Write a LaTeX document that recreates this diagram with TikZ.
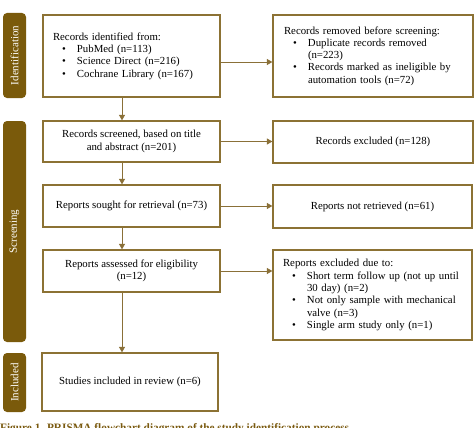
\documentclass[tikz,border=0pt]{standalone}
\usepackage{fontspec}
\setmainfont{Liberation Serif}
\usetikzlibrary{arrows.meta}
\definecolor{barc}{HTML}{7A5A0B}
\definecolor{boxc}{HTML}{8C7234}
\definecolor{arrc}{HTML}{8A7038}
\definecolor{capc}{HTML}{7A5A10}
\newcommand\itm[1]{\par{\leftskip=24pt\noindent\llap{\textbullet\hspace{11pt}}#1\par}}
\tikzset{
  bar/.style={fill=barc, rounded corners=4pt, draw=none},
  lbl/.style={text=white, rotate=90, font=\fontsize{11}{13}\selectfont, inner sep=0pt},
  box/.style={draw=boxc, line width=1.3pt, fill=white, font=\fontsize{10.8}{12.3}\selectfont},
  lbox/.style={box, align=left},
  cbox/.style={box, align=center},
  conn/.style={draw=arrc, line width=0.9pt, -{Triangle[length=5.5pt,width=6pt]}},
}
\begin{document}
\begin{tikzpicture}[x=1pt,y=-1pt]
\useasboundingbox (0,0) rectangle (474,428);
\clip (0,0) rectangle (474,428);
% side bars
\fill[bar] (3,13) rectangle (26,98);
\fill[bar] (3,121) rectangle (26,342);
\fill[bar] (3,353) rectangle (26,412);
\node[lbl] (lid) at (14.5,55.5) {Identification};
\node[lbl] (lsc) at (14.5,231.5) {Screening};
\node[lbl] (lin) at (14.5,382.5) {Included};
% boxes
\node[lbox, minimum width=177pt, minimum height=82pt, text width=157pt, inner xsep=10pt] (id) at (131.5,56)
  {Records identified from:\itm{PubMed (n=113)}\itm{Science Direct (n=216)}\itm{Cochrane Library (n=167)}};
\node[lbox, minimum width=200pt, minimum height=82pt, text width=178pt, inner xsep=11pt] (rem) at (373,56)
  {Records removed before screening:\itm{Duplicate records removed\newline (n=223)}\itm{Records marked as ineligible by\newline automation tools (n=72)}};
\node[cbox, minimum width=177pt, minimum height=41pt] (scr) at (131.5,141.5)
  {Records screened, based on title\\and abstract (n=201)};
\node[cbox, minimum width=200pt, minimum height=42pt] (exc) at (373,142)
  {Records excluded (n=128)};
\node[cbox, minimum width=177pt, minimum height=42pt] (sou) at (131.5,206)
  {Reports sought for retrieval (n=73)};
\node[cbox, minimum width=199pt, minimum height=43pt] (nre) at (372.5,206.5)
  {Reports not retrieved (n=61)};
\node[cbox, minimum width=177pt, minimum height=42pt] (ass) at (131.5,271)
  {Reports assessed for eligibility\\(n=12)};
\node[lbox, minimum width=199pt, minimum height=90pt, text width=179pt, inner xsep=10pt] (rex) at (372.5,295)
  {Reports excluded due to:\itm{Short term follow up (not up until\newline 30 day) (n=2)}\itm{Not only sample with mechanical\newline valve (n=3)}\itm{Single arm study only (n=1)}};
\node[cbox, minimum width=176pt, minimum height=58pt] (inc) at (130,382)
  {Studies included in review (n=6)};
% connectors
\coordinate (ax) at (122,0);
\coordinate (ay) at (0,62);
\draw[conn] (id.south -| ax) -- (scr.north -| ax);
\draw[conn] (scr.south -| ax) -- (sou.north -| ax);
\draw[conn] (sou.south -| ax) -- (ass.north -| ax);
\draw[conn] (ass.south -| ax) -- (inc.north -| ax);
\draw[conn] (id.east |- ay) -- (rem.west |- ay);
\draw[conn] (scr.east) -- (scr.east -| exc.west);
\draw[conn] (sou.east) -- (sou.east -| nre.west);
\draw[conn] (ass.east) -- (ass.east -| rex.west);
% caption
\node[anchor=base west, inner sep=0pt, text=capc, font=\bfseries\fontsize{11.3}{13}\selectfont] (cap) at (0,431)
  {Figure 1. PRISMA flowchart diagram of the study identification process};
\end{tikzpicture}
\end{document}
